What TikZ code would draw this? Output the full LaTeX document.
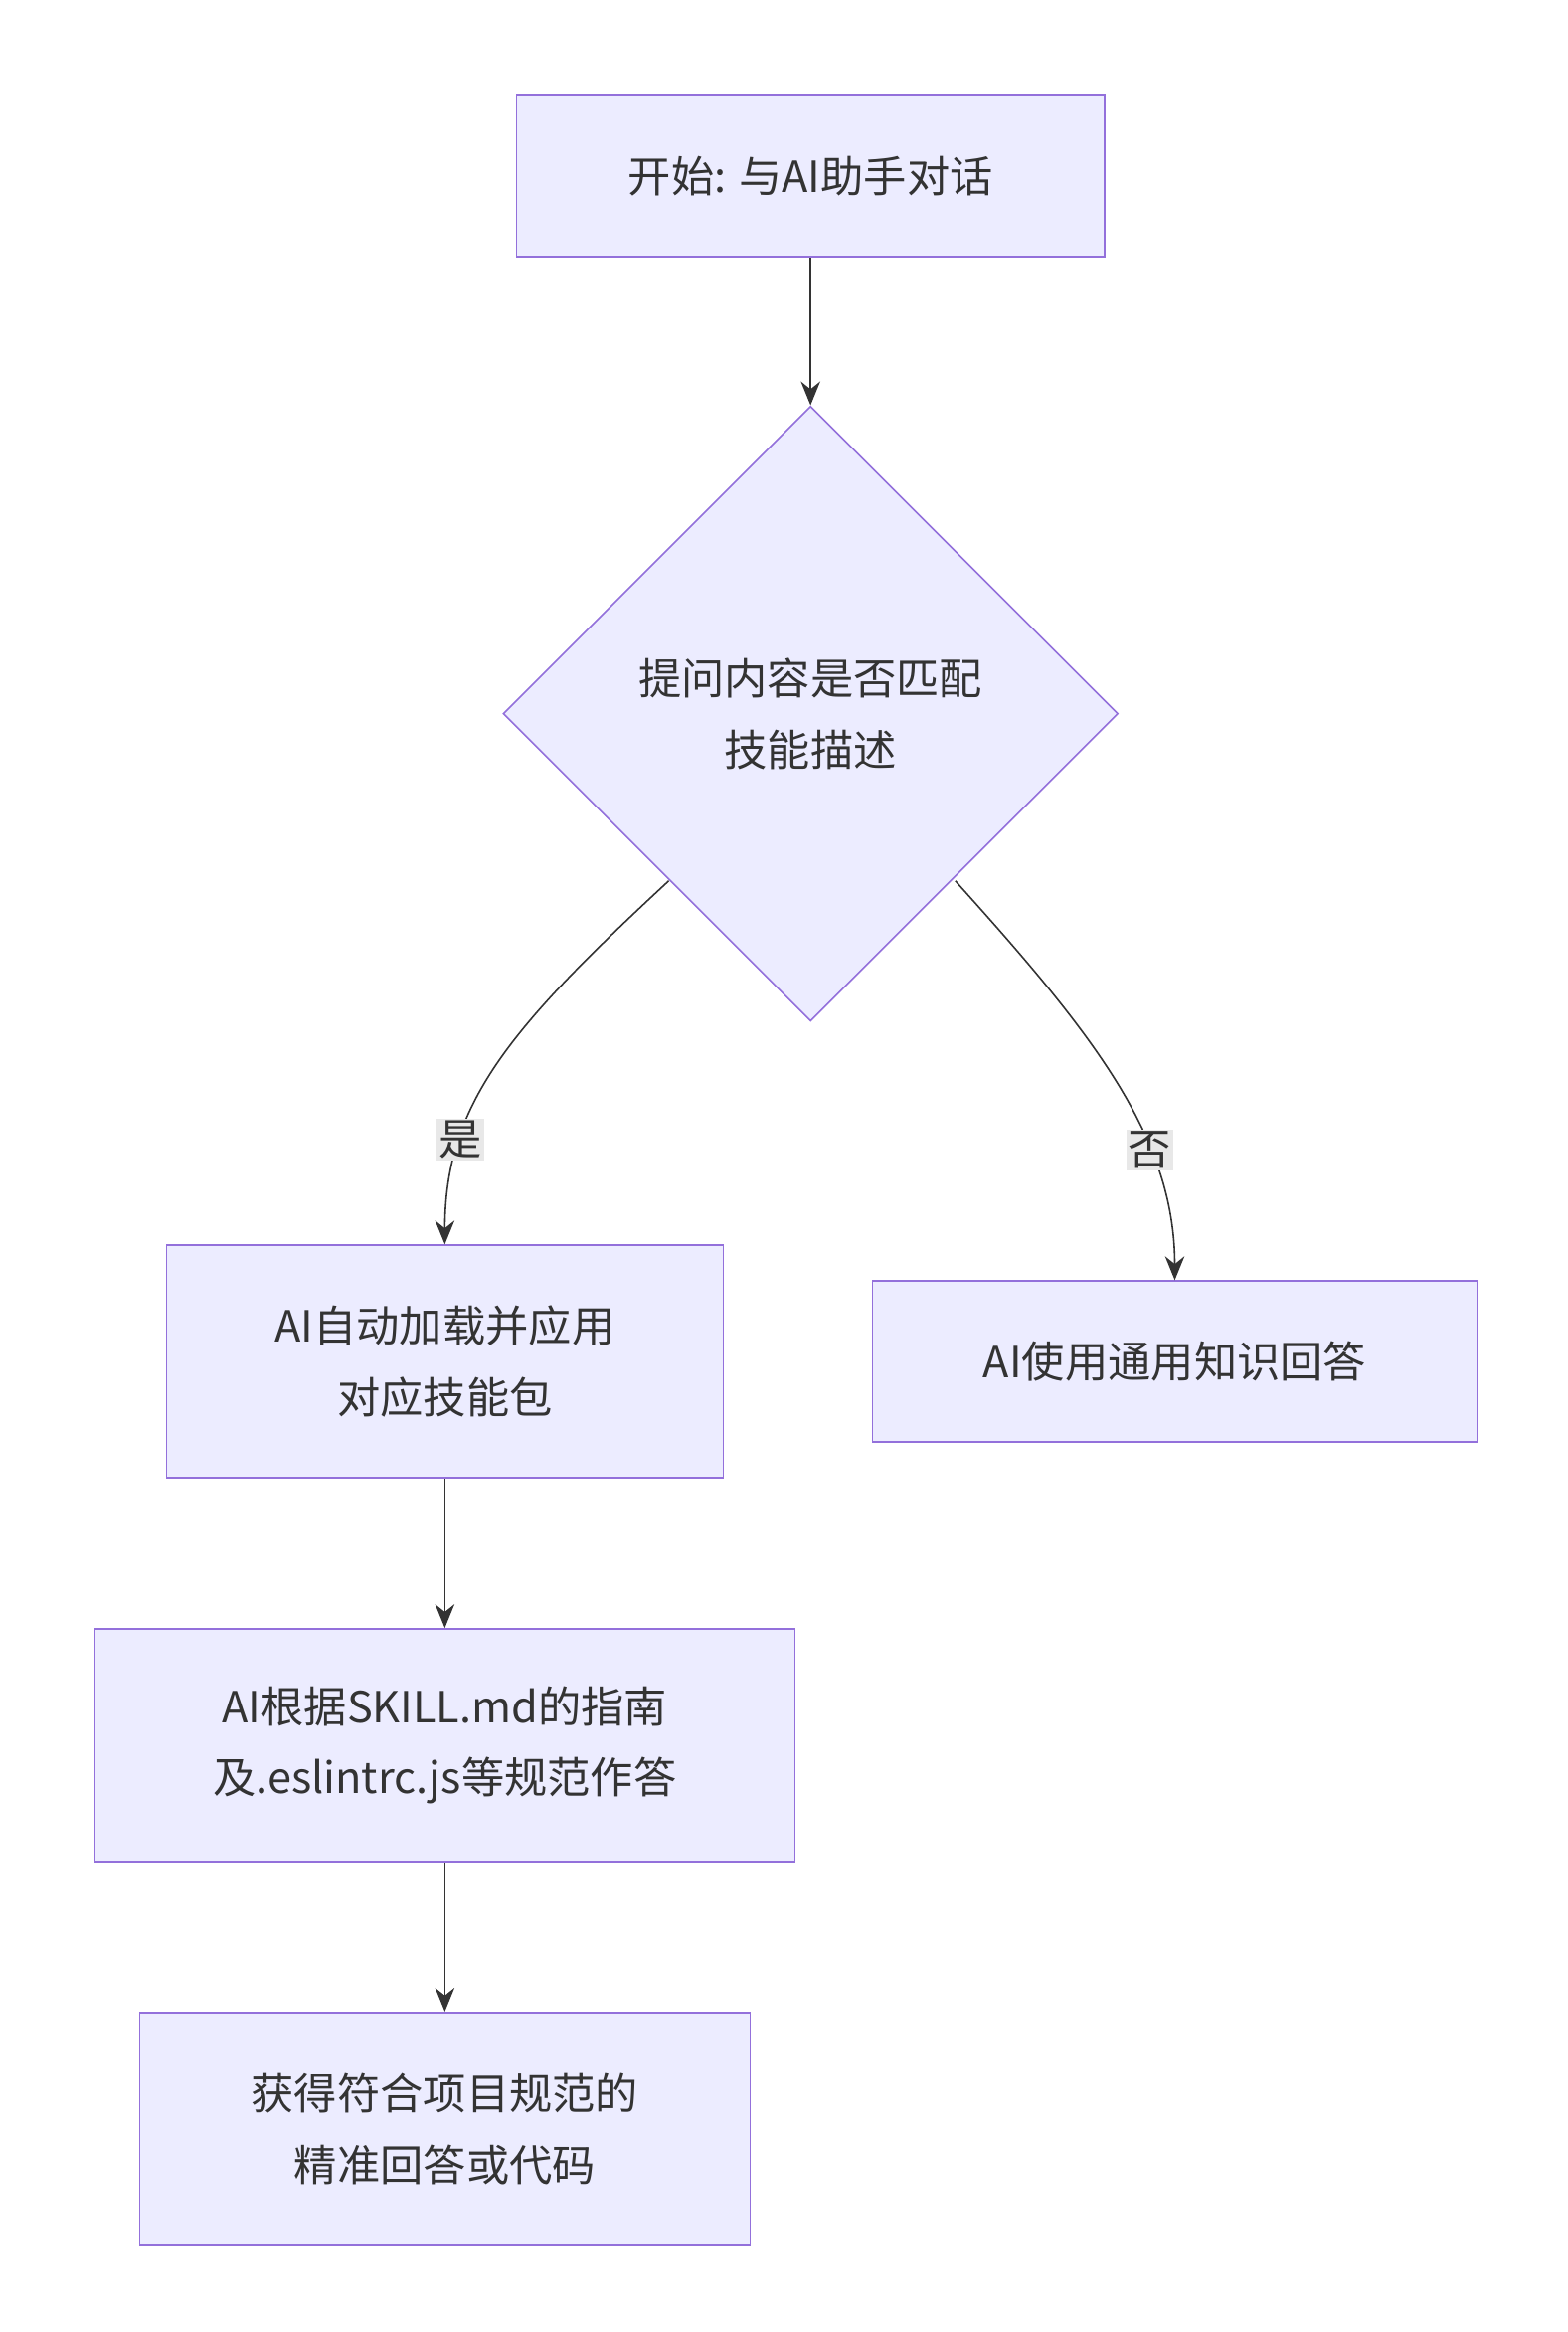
\documentclass[tikz,border=0pt]{standalone}
\usepackage{fontspec}
\setmainfont{Noto Sans CJK SC}
\usetikzlibrary{shapes.geometric,arrows.meta,positioning}
\definecolor{boxfill}{HTML}{ECECFF}
\definecolor{boxline}{HTML}{9370DB}
\definecolor{linkcol}{HTML}{333333}
\definecolor{lblfill}{HTML}{E8E8E8}
\begin{document}
\begin{tikzpicture}[x=0.05cm, y=-0.05cm,
    every node/.style={font=\fontsize{41}{68}\selectfont, text=linkcol},
    box/.style={draw=boxline, fill=boxfill, line width=1.5pt, align=center, inner sep=0pt},
    decision/.style={diamond, draw=boxline, fill=boxfill, line width=1.5pt, align=center, minimum width=20.6cm, minimum height=20.6cm, inner sep=0pt},
    arrow/.style={draw=linkcol, line width=1.5pt, -{Stealth[length=0.8cm, width=0.65cm]}},
    lbl/.style={fill=lblfill, inner sep=2pt}]

    \useasboundingbox (0,0) rectangle (1050,1562);

    % nodes
    \node[box, minimum width=19.7cm, minimum height=5.4cm] (start) at (543,118) {开始: 与AI助手对话};
    \node[decision] (match) at (543,478) {提问内容是否匹配\\技能描述};
    \node[box, minimum width=18.65cm, minimum height=7.8cm] (load) at (298,912) {AI自动加载并应用\\对应技能包};
    \node[box, minimum width=20.25cm, minimum height=5.4cm] (general) at (787,912) {AI使用通用知识回答};
    \node[box, minimum width=23.45cm, minimum height=7.8cm] (follow) at (298,1169) {AI根据SKILL.md的指南\\及.eslintrc.js等规范作答};
    \node[box, minimum width=20.45cm, minimum height=7.8cm] (result) at (298,1426) {获得符合项目规范的\\精准回答或代码};

    \coordinate (yesfrom) at (448,590);
    \coordinate (nofrom) at (640,590);

    % arrows
    \draw[arrow] (start) -- (match);
    \draw[arrow] (yesfrom) .. controls (340,690) and (298,740) .. node[lbl, pos=0.72] {是} (load);
    \draw[arrow] (nofrom) .. controls (730,690) and (787,760) .. node[lbl, pos=0.68] {否} (general);
    \draw[arrow] (load) -- (follow);
    \draw[arrow] (follow) -- (result);
\end{tikzpicture}
\end{document}
